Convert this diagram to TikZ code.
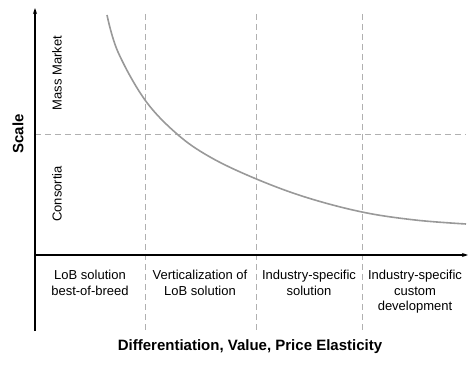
\documentclass[tikz,border=0pt]{standalone}
\usepackage{fontspec}
\setmainfont{Liberation Sans}
\usetikzlibrary{arrows.meta}
\definecolor{curvegray}{HTML}{999999}
\definecolor{gridgray}{HTML}{B0B0B0}
\begin{document}
\begin{tikzpicture}[x=1pt, y=-1pt, every node/.style={font=\fontsize{13}{15.5}\selectfont},
    axis/.style={line width=1.3pt, -{Stealth[length=6pt, width=4pt]}},
    grid/.style={gridgray, line width=0.9pt, dash pattern=on 6pt off 4pt},
    column/.style={align=center, anchor=north}]
    \useasboundingbox (0,0) rectangle (474,366);
    % axes
    \coordinate (o) at (35,255);
    \coordinate (ybot) at (35,331);
    \coordinate (ytop) at (35,8);
    \coordinate (xend) at (468,255);
    \draw[grid] (35,134) -- (466,134);
    \foreach \k/\px in {1/145,2/256,3/362} {
        \coordinate (t\k) at (\px,14);
        \coordinate (b\k) at (\px,331);
        \draw[grid] (t\k) -- (b\k);
    }
    \draw[line width=1.3pt] (ybot) -- (o);
    \draw[axis] (o) -- (ytop);
    \draw[axis] (o) -- (xend);
    % curve
    \draw[curvegray, line width=1.6pt] plot[smooth, tension=0.6] coordinates
        {(107,15) (118,52) (145,100) (177,134) (210,157) (254,178) (305,197) (362,212) (415,220) (466,224)};
    % labels
    \node[rotate=90, font=\bfseries\fontsize{15}{17}\selectfont] (scale) at (18,134) {Scale};
    \node[rotate=90] (mass) at (57,73) {Mass Market};
    \node[rotate=90] (cons) at (57,194) {Consortia};
    \node[column] (c1) at (90,267) {LoB solution\\best-of-breed};
    \node[column] (c2) at (200,267) {Verticalization of\\LoB solution};
    \node[column] (c3) at (309,267) {Industry-specific\\solution};
    \node[column] (c4) at (415,267) {Industry-specific\\custom\\development};
    \node[font=\bfseries\fontsize{15}{17}\selectfont] (xlab) at (250,347) {Differentiation, Value, Price Elasticity};
\end{tikzpicture}
\end{document}
